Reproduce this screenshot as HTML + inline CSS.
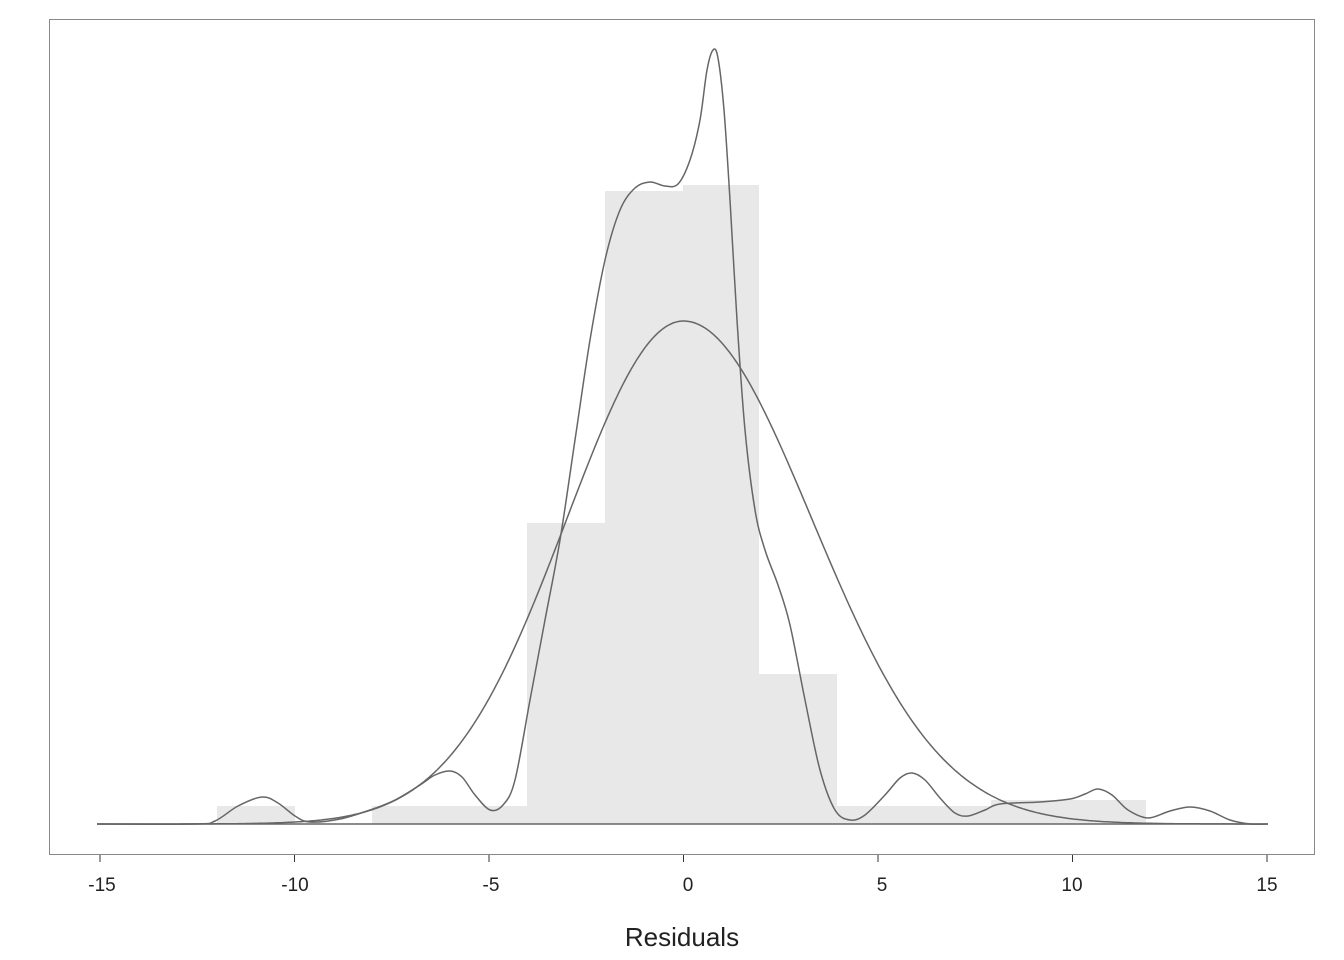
<!DOCTYPE html>
<html><head><meta charset="utf-8"><style>
html,body{margin:0;padding:0;background:#fff;}
svg{display:block;font-family:"Liberation Sans",Arial,sans-serif;}
</style></head><body>
<svg id="s" width="1344" height="960" xmlns="http://www.w3.org/2000/svg">
<rect x="0" y="0" width="1344" height="960" fill="#fff"/>
<g fill="#e8e8e8">
<rect x="217" y="806" width="78" height="18"/>
<rect x="372" y="806" width="155" height="18"/>
<rect x="527" y="523" width="78" height="301"/>
<rect x="605" y="191" width="78" height="633"/>
<rect x="683" y="185" width="76" height="639"/>
<rect x="759" y="674" width="78" height="150"/>
<rect x="837" y="806" width="154" height="18"/>
<rect x="991" y="800" width="155" height="24"/>
</g>
<line x1="97" y1="824" x2="1268" y2="824" stroke="#666" stroke-width="1.5"/>
<path id="norm" fill="none" stroke="#666" stroke-width="1.5"/>
<path id="kde" fill="none" stroke="#666" stroke-width="1.5"/>
<rect x="49.5" y="19.5" width="1265" height="835" fill="none" stroke="#888" stroke-width="1"/>
<g stroke="#333" stroke-width="1">
<line x1="100" y1="855" x2="100" y2="862"/><line x1="294.5" y1="855" x2="294.5" y2="862"/>
<line x1="489" y1="855" x2="489" y2="862"/><line x1="683.5" y1="855" x2="683.5" y2="862"/>
<line x1="878" y1="855" x2="878" y2="862"/><line x1="1072.5" y1="855" x2="1072.5" y2="862"/>
<line x1="1267" y1="855" x2="1267" y2="862"/>
</g>
<g font-size="19" fill="#222" text-anchor="middle">
<text x="102" y="891">-15</text><text x="295" y="891">-10</text><text x="491" y="891">-5</text>
<text x="688" y="891">0</text><text x="882" y="891">5</text><text x="1072" y="891">10</text><text x="1267" y="891">15</text>
</g>
<text x="682" y="946" font-size="26" fill="#222" text-anchor="middle">Residuals</text>
</svg>
<script>
var d="";
for(var px=97;px<=1268;px+=2){var x=(px-683.5)/38.9;var s=x<0?3.0:3.3;var y=824-503*Math.exp(-x*x/(2*s*s));d+=(d?"L":"M")+px+","+y.toFixed(1);}
document.getElementById("norm").setAttribute("d",d);
var p=[[97,824],[195,824],[215,821],[238,806],[262,797],[278,803],[295,816],[310,822],[340,819],[370,810],[395,800],[420,785],[435,775],[450,771],[462,777],[475,795],[490,810],[503,805],[515,780],[530,700],[545,620],[560,540],[575,440],[590,340],[605,260],[620,210],[635,188],[650,182],[665,186],[678,184],[690,160],[700,120],[707,70],[713,50],[718,58],[724,110],[730,200],[737,320],[745,430],[755,510],[765,550],[778,585],[790,625],[805,700],[820,770],[835,810],[850,820],[865,815],[885,795],[900,778],[912,773],[925,780],[940,798],[955,813],[968,816],[985,810],[1000,804],[1040,802],[1070,799],[1085,794],[1098,789],[1112,795],[1128,810],[1148,818],[1170,811],[1190,807],[1210,811],[1230,820],[1250,824],[1268,824]];
var q="M"+p[0][0]+","+p[0][1];
for(var i=0;i<p.length-1;i++){var a=p[Math.max(i-1,0)],b=p[i],c=p[i+1],e=p[Math.min(i+2,p.length-1)];
q+="C"+(b[0]+(c[0]-a[0])/6).toFixed(1)+","+(b[1]+(c[1]-a[1])/6).toFixed(1)+" "+(c[0]-(e[0]-b[0])/6).toFixed(1)+","+(c[1]-(e[1]-b[1])/6).toFixed(1)+" "+c[0]+","+c[1];}
document.getElementById("kde").setAttribute("d",q);
</script>
</body></html>
